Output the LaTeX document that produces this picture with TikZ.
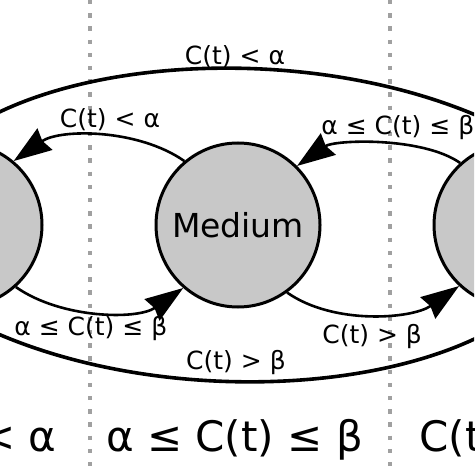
\documentclass[tikz,border=0pt]{standalone}
\usepackage{fontspec}
\setmainfont{DejaVu Sans}
\usetikzlibrary{arrows.meta, positioning}
\definecolor{stategray}{RGB}{200,200,200}
\definecolor{zonegray}{RGB}{160,160,160}

\begin{document}
\begin{tikzpicture}[
  x=0.5pt, y=-0.5pt,
  state/.style={circle, fill=stategray, draw=black, line width=1.5pt, minimum size=82pt, inner sep=0pt, font=\fontsize{16.5}{20}\selectfont},
  arrow/.style={-{Stealth[length=19pt, width=13pt, inset=1.5pt]}, line width=1.3pt},
  bigarrow/.style={-{Stealth[length=19pt, width=13pt, inset=1.5pt]}, line width=1.8pt},
  label/.style={font=\fontsize{12.5}{15}\selectfont, inner sep=0pt},
  zone/.style={font=\fontsize{21}{25}\selectfont, inner sep=0pt},
  divider/.style={zonegray, line width=2pt, dash pattern=on 2.2pt off 4.4pt}
]
  \useasboundingbox (0,0) rectangle (474,474);
  \clip (0,0) rectangle (474,474);

  % Zone dividers
  \draw[divider] (90,0) -- (90,474);
  \draw[divider] (390,0) -- (390,474);

  % States
  \node[state] (medium) at (238,225) {Medium};
  \node[state, left=55.5pt of medium] (low) {};
  \node[state, right=55.5pt of medium] (high) {};

  % Transitions between neighbours
  \draw[arrow] (medium.130) to[out=145, in=35, looseness=0.85] (low.50);
  \draw[arrow] (high.132) to[out=145, in=35, looseness=0.72] (medium.45);
  \draw[arrow] (low.-48) to[out=-35, in=-145, looseness=0.85] (medium.-131);
  \draw[arrow] (medium.-54) to[out=-35, in=-145, looseness=0.85] (high.-133);

  % Jumps over the middle state
  \draw[bigarrow] (high.80) to[out=149, in=31, looseness=0.82] (low.100);
  \draw[bigarrow] (low.-100) to[out=-31, in=-149, looseness=0.82] (high.-80);

  % Transition labels
  \node[label, anchor=base] (lowtop) at (235,65) {C(t) < α};
  \node[label, anchor=base] (highbot) at (236,369) {C(t) > β};
  \node[label, anchor=base] (tomedlow) at (110,128) {C(t) < α};
  \node[label, anchor=base west] (tomedhigh) at (321,135) {α ≤ C(t) ≤ β};
  \node[label, anchor=base west] (frmlow) at (14,335) {α ≤ C(t) ≤ β};
  \node[label, anchor=base west] (tohigh) at (322,343) {C(t) > β};

  % Zone labels below
  \node[zone, anchor=base east] (zlow) at (57,451) {C(t) < α};
  \node[zone, anchor=base] (zmed) at (234.5,451) {α ≤ C(t) ≤ β};
  \node[zone, anchor=base west] (zhigh) at (419,451) {C(t) > β};
\end{tikzpicture}
\end{document}
